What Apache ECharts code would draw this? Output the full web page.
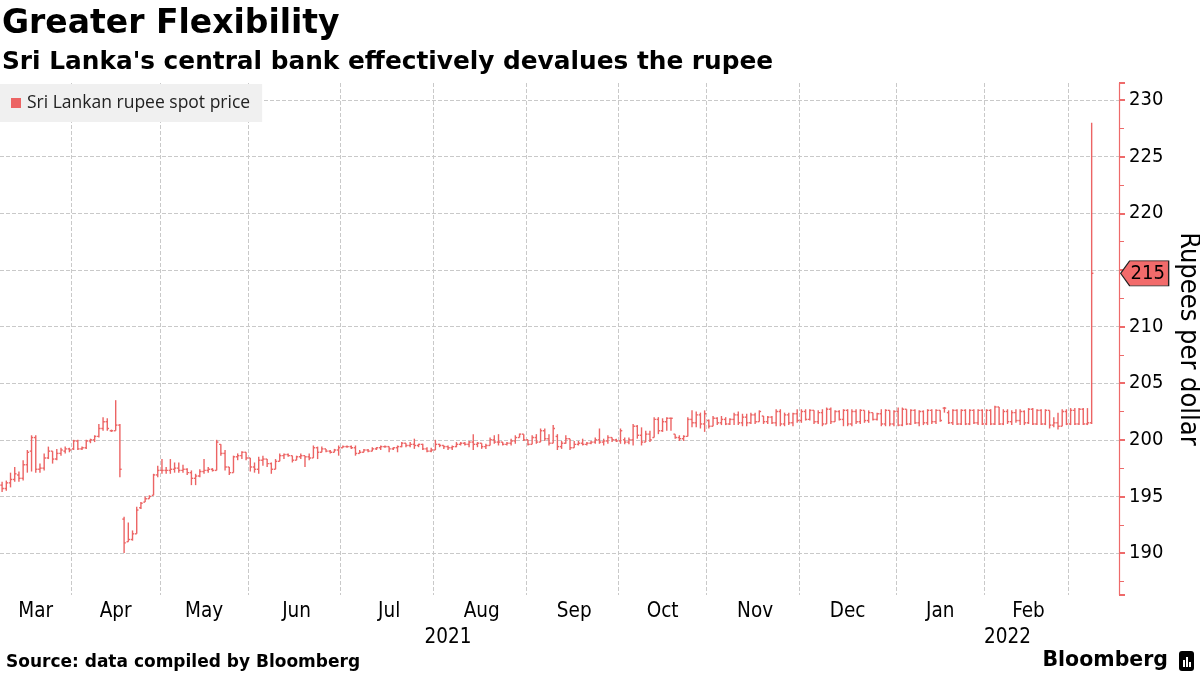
<!DOCTYPE html>
<html>
<head>
<meta charset="utf-8">
<script src="https://cdn.jsdelivr.net/npm/echarts@6/dist/echarts.min.js"></script>
<style>
html,body{margin:0;padding:0;background:#fff;}
#main{width:1200px;height:675px;}
</style>
</head>
<body>
<div id="main"></div>
<script>
// ---------- data ----------
const titleText = 'Greater Flexibility';
const subtitleText = "Sri Lanka's central bank effectively devalues the rupee";
const sourceText = 'Source: data compiled by Bloomberg';
const seriesName = 'Sri Lankan rupee spot price';
const yAxisName = 'Rupees per dollar';
const monthNames = ['Jan','Feb','Mar','Apr','May','Jun','Jul','Aug','Sep','Oct','Nov','Dec'];
const firstDay = '2021-03-08';   // first trading day shown
const lastDay = '2022-03-16';    // right edge of the axis (blank days after last bar)
const holidays = ['2021-03-11', '2021-04-14'];
const yMin = 186.3;
const yMax = 231.5;

// daily bars: [open, high, low, close], one per trading day from 2021-03-08 to 2022-03-08
const bars = [
[196.0,196.3,195.4,195.7],[195.7,196.4,195.5,196.2],[196.2,197.1,195.8,196.5],[196.5,197.6,196.3,197.0],
[196.9,197.2,196.3,196.6],[196.6,198.2,196.4,197.8],[197.8,199.1,197.1,198.9],[199.0,200.4,197.2,200.2],
[200.2,200.4,197.1,197.4],[197.4,197.9,197.1,197.5],[197.5,198.8,197.3,198.4],[198.4,199.4,198.3,199.0],
[199.0,199.0,197.9,198.3],[198.3,199.2,198.2,198.8],[198.8,199.3,198.6,199.1],[199.0,199.4,198.8,199.2],
[199.2,199.3,198.9,199.1],[199.2,200.0,199.1,199.9],
[199.9,200.0,199.1,199.2],[199.2,199.4,199.1,199.3],[199.3,200.0,199.2,199.9],[199.9,200.1,199.7,200.0],
[200.0,200.4,199.8,200.3],[200.3,201.4,200.2,201.0],[201.0,202.0,200.8,201.6],[201.6,201.9,200.8,201.0],
[200.8,200.9,200.7,200.8],[200.8,203.5,200.8,201.3],[201.3,201.4,196.7,197.4],[193.0,193.2,190.0,190.9],
[191.0,192.7,191.0,191.2],[191.2,192.0,191.1,191.7],[191.7,194.1,191.7,193.8],[194.0,194.5,193.9,194.4],
[194.5,195.0,194.5,194.8],[194.8,195.1,194.8,195.0],[195.1,197.0,195.1,196.9],[196.9,197.7,196.7,197.3],
[197.3,198.3,197.0,197.3],[197.3,197.6,197.0,197.3],
[197.3,198.3,197.0,197.4],[197.4,198.0,197.1,197.5],[197.5,198.0,197.1,197.3],[197.3,197.8,197.1,197.4],
[197.4,197.5,196.9,197.1],[197.1,197.3,196.0,196.6],[196.6,197.0,196.0,196.8],[196.8,197.4,196.7,197.2],
[197.2,198.3,197.0,197.3],[197.3,197.6,197.1,197.4],[197.4,197.5,197.2,197.3],[197.3,200.0,197.3,199.8],
[199.6,199.6,198.6,198.8],[198.8,199.1,197.3,197.6],[197.6,197.6,196.9,197.1],[197.1,198.6,197.1,198.5],
[198.5,198.8,198.2,198.6],[198.6,199.0,198.3,198.9],[198.9,198.9,198.2,198.4],[198.4,198.4,197.2,197.6],
[197.6,198.0,197.1,197.4],
[197.4,198.5,197.0,198.2],[198.2,198.6,197.7,198.3],[198.3,198.3,197.6,197.9],[197.9,198.0,197.0,197.4],
[197.4,198.3,197.4,198.1],[198.1,198.8,198.1,198.6],[198.6,198.8,198.3,198.7],[198.7,198.8,198.5,198.6],
[198.6,198.6,198.0,198.2],[198.2,198.6,198.2,198.5],[198.5,198.8,198.3,198.6],[198.6,198.6,197.6,198.5],
[198.5,198.8,198.2,198.4],[198.4,199.5,198.4,199.3],[199.3,199.4,198.3,198.9],[198.9,199.4,198.9,199.2],
[199.2,199.2,198.9,199.0],[199.0,199.1,198.8,198.9],[198.9,199.2,198.9,199.1],[199.1,199.5,198.6,199.3],
[199.3,199.5,199.3,199.4],[199.4,199.5,199.3,199.4],
[199.4,199.5,199.2,199.3],[199.3,199.5,198.6,198.8],[198.8,199.1,198.8,198.9],[198.9,199.2,198.9,199.1],
[199.1,199.2,198.9,199.0],[199.0,199.35,199.0,199.2],[199.2,199.35,199.1,199.3],[199.3,199.5,199.1,199.4],
[199.4,199.5,199.3,199.4],[199.4,199.4,198.9,199.2],[199.2,199.35,199.1,199.3],[199.3,199.5,198.9,199.4],
[199.4,199.8,199.35,199.7],[199.7,199.7,199.35,199.5],[199.5,199.8,199.35,199.6],[199.6,200.1,199.2,199.5],
[199.5,199.65,199.35,199.6],[199.6,199.65,199.1,199.2],[199.2,199.35,198.9,199.0],[199.0,199.3,198.9,199.1],
[199.1,200.0,199.1,199.6],[199.6,199.65,199.35,199.5],
[199.5,199.5,199.2,199.4],[199.4,199.5,199.1,199.3],[199.3,199.5,199.1,199.4],[199.4,199.8,199.35,199.6],
[199.6,199.8,199.5,199.7],[199.7,199.8,199.5,199.6],[199.6,199.9,199.35,199.8],[199.8,200.5,199.1,199.6],
[199.6,199.8,199.35,199.7],[199.7,199.7,199.2,199.4],[199.4,199.65,199.2,199.5],[199.5,200.2,199.5,200.0],
[200.0,200.4,199.65,199.8],[199.8,200.5,199.5,199.8],[199.8,199.8,199.5,199.6],[199.6,199.8,199.5,199.7],
[199.7,200.1,199.5,199.9],[199.9,200.4,199.65,200.2],[200.2,200.55,200.2,200.5],[200.5,200.5,199.9,200.0],
[200.0,200.0,199.5,199.6],[199.6,200.4,199.6,200.2],
[200.2,200.5,199.65,199.8],[199.8,201.0,199.8,200.8],[200.8,201.0,199.9,200.1],[200.1,200.5,199.5,199.7],
[199.7,201.3,199.7,201.0],[200.3,200.5,199.1,199.4],[199.4,199.9,199.2,199.7],[199.7,200.4,199.65,200.1],
[200.1,200.1,199.1,199.3],[199.3,199.9,199.3,199.6],[199.6,199.9,199.5,199.7],[199.7,200.1,199.5,199.6],
[199.6,199.8,199.5,199.7],[199.7,199.9,199.6,199.8],[199.8,200.2,199.65,200.0],[200.0,201.0,199.65,199.8],
[199.8,200.1,199.5,199.9],[199.9,200.4,199.65,200.2],[200.2,200.2,199.8,200.0],[200.0,200.1,199.8,199.9],
[199.9,201.0,199.65,200.8],[200.0,200.2,199.6,199.8],
[199.8,200.2,199.6,200.0],[200.0,201.4,199.5,201.2],[201.2,201.3,200.1,200.4],[200.4,201.1,199.5,199.8],
[199.8,200.8,199.8,200.5],[200.5,200.8,199.8,200.0],[200.2,202.0,200.2,201.8],[201.8,202.0,200.5,200.8],
[200.8,201.9,200.7,201.6],[201.6,202.0,200.8,201.9],[201.9,201.95,200.8,201.9],[200.5,200.5,200.1,200.2],
[200.2,200.4,199.9,200.1],[200.1,200.4,199.9,200.3],[200.3,202.0,200.3,201.8],[201.8,202.6,201.1,201.5],
[201.5,202.5,201.1,202.2],[202.2,202.4,201.0,201.4],[201.4,202.6,200.7,202.3],[201.7,201.8,201.0,201.2],
[201.2,202.1,201.2,201.9],
[201.9,202.0,201.3,201.5],[201.5,202.1,201.3,201.8],[201.8,202.0,201.3,201.4],[201.4,201.9,201.3,201.8],
[201.8,202.4,201.3,202.2],[202.2,202.5,201.3,201.5],[201.5,202.3,201.2,202.0],[202.0,202.3,201.2,201.5],
[201.5,202.4,201.4,202.2],[202.2,202.4,201.4,201.6],[201.6,202.6,201.6,202.5],[202.1,202.1,201.4,201.6],
[201.6,202.1,201.4,202.0],[202.0,202.1,201.4,201.5],[201.5,202.7,201.2,202.5],[202.5,202.7,201.2,201.4],
[201.4,202.4,201.2,202.2],[202.2,202.4,201.3,201.5],[201.5,202.4,201.2,202.3],[202.3,202.7,201.5,201.7],
[201.7,202.7,201.5,202.5],[202.5,202.7,201.7,201.8],
[201.8,202.7,201.7,202.6],[202.6,202.6,201.4,201.6],[201.6,202.6,201.4,202.4],[202.4,202.7,201.2,201.4],
[201.4,202.85,201.4,202.7],[202.7,202.85,201.4,201.6],[201.6,202.6,201.6,202.5],[202.5,202.6,201.7,201.8],
[201.8,202.7,201.2,202.6],[202.6,202.7,201.2,201.4],[201.4,202.7,201.2,202.5],[202.5,202.7,201.4,201.6],
[201.6,202.7,201.4,202.6],[202.6,202.6,201.5,201.7],[201.7,202.6,201.5,202.4],[202.4,202.4,201.7,201.8],
[201.8,202.4,201.7,202.3],[202.3,202.7,201.2,201.4],[201.4,202.7,201.2,202.6],[202.6,202.6,201.2,201.4],
[201.4,202.6,201.2,202.5],[202.5,202.85,201.2,201.3],[201.3,202.85,201.2,202.7],
[202.7,202.7,201.3,201.4],[201.4,202.7,201.3,202.6],[202.6,202.7,201.4,201.5],[201.5,202.6,201.2,202.5],
[202.5,202.6,201.3,201.5],[201.5,202.7,201.3,202.6],[202.6,202.7,201.4,201.6],[201.6,202.7,201.4,202.6],
[202.6,202.6,201.6,201.7],[202.8,202.9,202.4,202.8],[202.4,202.6,201.4,201.5],[201.5,202.7,201.3,202.6],
[202.6,202.7,201.3,201.4],[201.4,202.7,201.3,202.6],[202.6,202.7,201.3,201.4],[201.4,202.7,201.3,202.6],
[202.6,202.7,201.4,201.5],[201.5,202.7,201.3,202.6],[202.6,202.7,201.3,201.4],
[201.4,202.7,201.3,202.6],[202.6,202.7,201.3,201.4],[201.4,203.0,201.3,202.9],[202.9,202.9,201.3,201.4],
[201.4,202.7,201.3,202.5],[202.5,202.7,201.4,201.6],[201.6,202.6,201.3,202.4],[202.4,202.7,201.5,201.7],
[201.7,202.7,201.3,202.5],[202.5,202.6,201.3,201.5],[201.5,202.8,201.4,202.7],[202.7,202.8,201.3,201.4],
[201.4,202.7,201.3,202.6],[202.6,202.7,201.3,201.4],[201.4,202.7,201.3,202.6],[202.6,202.6,201.0,201.3],
[201.3,202.0,201.1,201.5],[201.5,202.4,200.9,201.2],[201.2,202.7,201.2,202.5],[202.5,202.7,201.3,201.4],
[201.4,202.8,201.3,202.6],[202.6,202.8,201.3,201.4],[201.4,202.8,201.3,202.7],[202.7,202.8,201.3,201.4],
[201.4,202.8,201.3,201.5],[201.5,228.0,201.4,214.7]
];

// ---------- styles ----------
const barColor = '#ec6464';
const axisColor = '#ee6a6a';
const gridColor = '#c9c9c9';
const narrowFont = "'DejaVu Sans Condensed', 'Liberation Sans Narrow', sans-serif";
const boldFont = "'DejaVu Sans', sans-serif";
const legendFont = "'Open Sans', 'Noto Sans', sans-serif";

// ---------- categories: trading days ----------
const dates = [];
(function () {
  const d = new Date(firstDay + 'T00:00:00Z');
  const end = new Date(lastDay + 'T00:00:00Z');
  const skip = new Set(holidays);
  while (d <= end) {
    const wd = d.getUTCDay();
    const s = d.toISOString().slice(0, 10);
    if (wd !== 0 && wd !== 6 && !skip.has(s)) dates.push(s);
    d.setUTCDate(d.getUTCDate() + 1);
  }
})();

// month boundaries & label positions
const monthStart = new Set();
const monthLabel = new Set();
const yearLabel = new Set();
(function () {
  const groups = [];
  const years = [];
  dates.forEach((s, i) => {
    const m = s.slice(0, 7), y = s.slice(0, 4);
    if (!groups.length || groups[groups.length - 1].key !== m) groups.push({ key: m, from: i, to: i });
    else groups[groups.length - 1].to = i;
    if (!years.length || years[years.length - 1].key !== y) years.push({ key: y, from: i, to: i });
    else years[years.length - 1].to = i;
  });
  groups.forEach((g, k) => {
    if (k > 0) monthStart.add(g.from);
    if (g.to - g.from + 1 >= 15) monthLabel.add(Math.floor((g.from + g.to + 1) / 2));
  });
  years.forEach(y => yearLabel.add(Math.floor((y.from + y.to) / 2)));
})();

const seriesData = bars.map((b, i) => [dates[i], b[0], b[1], b[2], b[3]]);
const lastIdx = bars.length - 1;
const lastPoint = [[dates[lastIdx], bars[lastIdx][3]]];

function renderItem(params, api) {
  const i = api.value(0);
  const pO = api.coord([i, api.value(1)]);
  const pH = api.coord([i, api.value(2)]);
  const pL = api.coord([i, api.value(3)]);
  const pC = api.coord([i, api.value(4)]);
  const half = api.size([1, 0])[0] * 0.42;
  const x = pH[0];
  const mk = () => ({ stroke: barColor, lineWidth: 1.4 });
  return {
    type: 'group',
    children: [
      { type: 'line', shape: { x1: x, y1: pH[1], x2: x, y2: pL[1] }, style: mk() },
      { type: 'line', shape: { x1: x - half, y1: pO[1], x2: x, y2: pO[1] }, style: mk() },
      { type: 'line', shape: { x1: x, y1: pC[1], x2: x + half, y2: pC[1] }, style: mk() }
    ]
  };
}

const chart = echarts.init(document.getElementById('main'), null, { renderer: 'canvas' });
chart.setOption({
  animation: false,
  backgroundColor: '#fff',
  title: [
    { text: titleText, left: 2, top: 8, padding: 0,
      textStyle: { fontFamily: boldFont, fontWeight: 'bold', fontSize: 33, color: '#000' } },
    { text: subtitleText, left: 2, top: 50, padding: 0,
      textStyle: { fontFamily: boldFont, fontWeight: 'bold', fontSize: 24.8, color: '#000' } },
    { text: sourceText, left: 6, top: 654, padding: 0,
      textStyle: { fontFamily: boldFont, fontWeight: 'bold', fontSize: 17, color: '#000' } },
    { text: 'Bloomberg', right: 32, top: 650, padding: 0,
      textStyle: { fontFamily: boldFont, fontWeight: 'bold', fontSize: 20.5, color: '#000' } }
  ],
  graphic: [
    { type: 'rect', left: 1179, top: 651, shape: { width: 15, height: 20, r: 3 }, style: { fill: '#000' } },
    { type: 'rect', left: 1183, top: 660, shape: { width: 2, height: 7 }, style: { fill: '#fff' } },
    { type: 'rect', left: 1186, top: 657, shape: { width: 2, height: 10 }, style: { fill: '#fff' } },
    { type: 'rect', left: 1189, top: 662, shape: { width: 2, height: 5 }, style: { fill: '#fff' } }
  ],
  legend: {
    show: true, left: 0, top: 84, orient: 'horizontal',
    backgroundColor: '#f0f0f0', padding: [10, 12, 10, 11],
    itemWidth: 10, itemHeight: 10, itemGap: 7,
    data: [{ name: seriesName, icon: 'rect', itemStyle: { color: barColor } }],
    textStyle: { fontFamily: legendFont, fontSize: 17.5, color: '#222', padding: [0, 0, 0, 1] }
  },
  grid: { left: 0, right: 81, top: 83, bottom: 80, containLabel: false, outerBoundsMode: 'none' },
  xAxis: [
    {
      type: 'category', data: dates, boundaryGap: true,
      axisLine: { show: false }, axisTick: { show: false },
      axisLabel: {
        interval: (i) => monthLabel.has(i),
        formatter: (v) => monthNames[parseInt(v.slice(5, 7), 10) - 1],
        fontFamily: narrowFont, fontSize: 20.5, color: '#000', margin: 6
      },
      splitLine: { show: true, interval: (i) => monthStart.has(i), lineStyle: { color: gridColor, type: 'dashed', width: 1 } }
    },
    {
      type: 'category', data: dates, boundaryGap: true, position: 'bottom', offset: 26,
      axisLine: { show: false }, axisTick: { show: false }, splitLine: { show: false },
      axisLabel: {
        interval: (i) => yearLabel.has(i),
        formatter: (v) => v.slice(0, 4),
        fontFamily: narrowFont, fontSize: 20.5, color: '#000', margin: 6
      }
    }
  ],
  yAxis: {
    type: 'value', position: 'right', min: yMin, max: yMax, splitNumber: 9,
    axisLine: { show: true, lineStyle: { color: axisColor, width: 1.2 } },
    axisTick: { show: true, length: 6, lineStyle: { color: axisColor, width: 2 } },
    minorTick: { show: true, splitNumber: 2, length: 5, lineStyle: { color: axisColor } },
    axisLabel: {
      showMinLabel: false, showMaxLabel: false, margin: 10,
      formatter: (v) => (Math.abs(v % 5) < 1e-6 ? String(Math.round(v)) : ''),
      fontFamily: narrowFont, fontSize: 20, color: '#000'
    },
    splitLine: { show: true, showMinLine: false, showMaxLine: false, lineStyle: { color: gridColor, type: 'dashed', width: 1 } },
    name: yAxisName, nameLocation: 'middle', nameRotate: -90, nameGap: 55,
    nameTextStyle: { fontFamily: narrowFont, fontSize: 27, color: '#000' }
  },
  series: [
    {
      name: seriesName, type: 'custom', renderItem: renderItem,
      itemStyle: { color: barColor },
      encode: { x: 0, y: [1, 2, 3, 4] },
      data: seriesData, clip: false
    },
    {
      name: 'last', type: 'scatter', data: lastPoint, clip: false, silent: true,
      symbol: 'path://M0,12L9,0L48,0L48,24L9,24Z', symbolSize: [48, 25], symbolKeepAspect: false,
      symbolOffset: [53, 0],
      itemStyle: { color: '#f26b6b', borderColor: '#222', borderWidth: 1, opacity: 1 },
      label: { show: true, position: 'inside', offset: [3, 0], formatter: (p) => String(Math.round(p.value[1])),
        fontFamily: narrowFont, fontSize: 20, color: '#000' },
      z: 10
    }
  ]
});
</script>
</body>
</html>
